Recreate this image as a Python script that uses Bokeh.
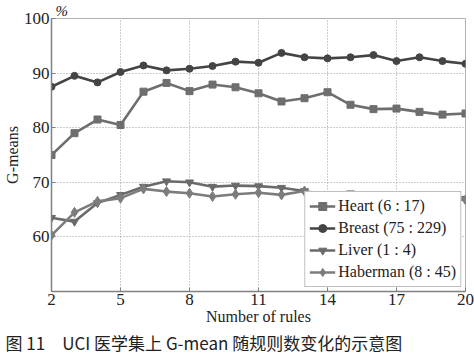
from bokeh.plotting import figure
from bokeh.models import Range1d, FixedTicker, Legend, Title
from bokeh.embed import file_html
from bokeh.resources import INLINE

rules = list(range(2, 21))
heart = [75.0, 79.0, 81.5, 80.5, 86.6, 88.2, 86.7, 87.9, 87.4, 86.3, 84.8, 85.4, 86.5, 84.2, 83.4, 83.5, 82.9, 82.4, 82.6]
breast = [87.5, 89.5, 88.3, 90.2, 91.4, 90.5, 90.8, 91.3, 92.1, 91.9, 93.7, 92.9, 92.7, 92.9, 93.3, 92.2, 92.9, 92.2, 91.7]
liver = [63.5, 62.8, 66.2, 67.7, 69.2, 70.2, 70.0, 69.2, 69.4, 69.3, 69.0, 68.4, 67.6, 68.0, 66.8, 67.1, 67.1, 66.8, 67.0]
haberman = [60.3, 64.5, 66.5, 67.1, 68.8, 68.3, 68.0, 67.4, 67.8, 68.1, 67.7, 68.4, 67.3, 67.5, 66.8, 66.9, 66.8, 66.7, 66.8]
labels = ["Heart (6 : 17)", "Breast (75 : 229)", "Liver (1 : 4)", "Haberman (8 : 45)"]
x_ticks = [2, 5, 8, 11, 14, 17, 20]
y_ticks = [60, 70, 80, 90, 100]

SERIF = "Liberation Serif"

p = figure(width=474, height=354, output_backend="svg", toolbar_location=None,
           x_range=Range1d(2, 20), y_range=Range1d(50, 100),
           min_border_left=0, min_border_right=9, min_border_top=0, min_border_bottom=0)
p.outline_line_color = "#b0b0b0"
p.background_fill_color = "white"
p.border_fill_color = "white"

for ax in (p.xaxis[0], p.yaxis[0]):
    ax.major_label_text_font = SERIF
    ax.major_label_text_font_size = "17px"
    ax.major_label_text_color = "#222222"
    ax.axis_label_text_font = SERIF
    ax.axis_label_text_font_size = "16px"
    ax.axis_label_text_font_style = "normal"
    ax.axis_label_text_color = "#222222"
    ax.axis_line_color = "#808080"
    ax.axis_line_width = 1.5
    ax.major_tick_in = 4
    ax.major_tick_out = 0
    ax.minor_tick_line_color = None
    ax.major_tick_line_color = "#808080"
    ax.major_label_standoff = 2
    ax.axis_label_standoff = 0

p.xaxis.ticker = FixedTicker(ticks=x_ticks)
p.yaxis.ticker = FixedTicker(ticks=y_ticks)
p.xaxis.axis_label = "Number of rules"
p.yaxis.axis_label = "G-means"

p.xgrid.ticker = FixedTicker(ticks=x_ticks)
p.ygrid.ticker = FixedTicker(ticks=y_ticks)
for g in (p.xgrid[0], p.ygrid[0]):
    g.grid_line_color = "#9a9a9a"
    g.grid_line_dash = "1 2"
    g.grid_line_width = 1

series = [
    (heart, "#6e6e6e", "square", 7),
    (breast, "#444444", "circle", 7),
    (liver, "#6a6a6a", "inverted_triangle", 8),
    (haberman, "#7c7c7c", "diamond", 10),
]
items = []
for (vals, col, mk, sz), lab in zip(series, labels):
    r1 = p.line(rules, vals, line_color=col, line_width=2.6)
    r2 = p.scatter(rules, vals, marker=mk, size=sz, fill_color=col, line_color=col)
    items.append((lab, [r1, r2]))

legend = Legend(items=items, location="bottom_right")
legend.label_text_font = SERIF
legend.label_text_font_size = "16px"
legend.label_text_color = "#222222"
legend.border_line_color = "#808080"
legend.border_line_width = 1
legend.background_fill_alpha = 1.0
legend.glyph_height = 20
legend.glyph_width = 26
legend.label_height = 20
legend.spacing = 2
legend.padding = 4
legend.margin = 4
legend.label_standoff = 3
p.add_layout(legend)

pct = Title(text="%", text_font=SERIF, text_font_size="15px", text_font_style="italic",
            text_color="#222222", align="left", offset=4, standoff=0)
p.add_layout(pct, "above")

caption = Title(text="图 11　UCI 医学集上 G-mean 随规则数变化的示意图",
                text_font="Noto Sans CJK SC", text_font_size="17px", text_font_style="normal",
                text_color="#222222", align="left", offset=-46, standoff=0)
p.add_layout(caption, "below")

open("out.html", "w").write(file_html(p, INLINE))
